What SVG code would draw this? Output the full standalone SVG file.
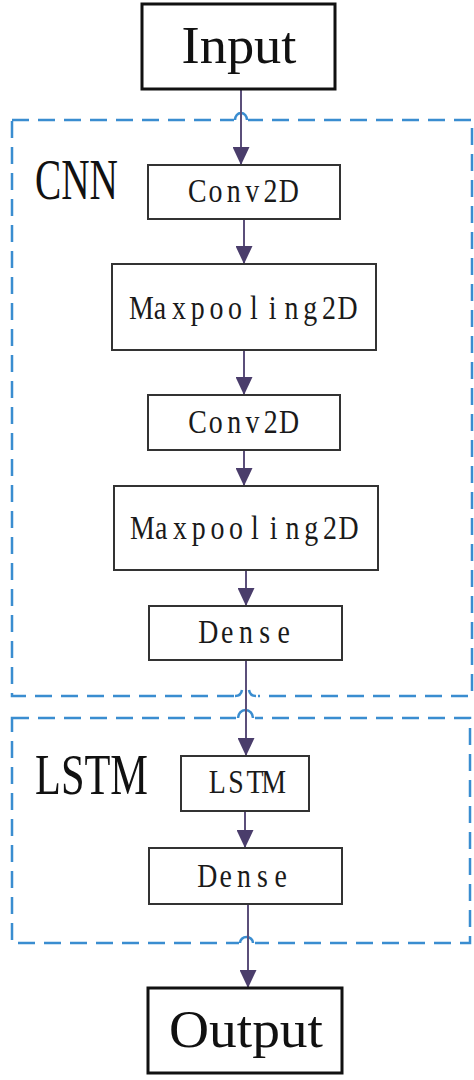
<svg xmlns="http://www.w3.org/2000/svg" width="474" height="1080" viewBox="0 0 474 1080">
<style>
.big{fill:#fff;stroke:#111;stroke-width:3}
.box{fill:#fff;stroke:#333;stroke-width:2}
.grp{fill:none;stroke:#3a8dd0;stroke-width:2.5;stroke-dasharray:17 9}
.hop{fill:none;stroke:#3a8dd0;stroke-width:2.5}
.mask{fill:#fff;stroke:none}
.t1{font-family:"Liberation Serif",serif;font-size:52px;fill:#111;text-anchor:middle}
.t2{font-family:"Liberation Serif",serif;font-size:56px;fill:#111}
.t3{font-family:"Liberation Serif",serif;font-size:34px;fill:#1a1a1a;text-anchor:middle}
.edge{stroke:#5b4f7a;stroke-width:2;fill:none;marker-end:url(#ah)}
</style>
<defs>
<marker id="ah" viewBox="0 0 18 17" refX="18" refY="8.5" markerWidth="18" markerHeight="17" markerUnits="userSpaceOnUse" orient="auto">
<path d="M0,0 L18,8.5 L0,17 Z" fill="#4a3d6b"/>
</marker>
</defs>
<rect width="474" height="1080" fill="#fff"/>
<g id="groups">
<g id="cnn-group">
<rect class="grp" x="12" y="120" width="460" height="576"/>
<text class="t2" x="35" y="199" textLength="83" lengthAdjust="spacingAndGlyphs">CNN</text>
</g>
<g id="lstm-group">
<rect class="grp" x="12" y="718" width="458" height="225"/>
<text class="t2" x="35" y="794" textLength="113" lengthAdjust="spacingAndGlyphs">LSTM</text>
</g>
<g id="hops">
<rect class="mask" x="234" y="116" width="14" height="8"/>
<path class="hop" d="M235,120 A6,7 0 0 1 247,120"/>
<rect class="mask" x="234" y="692" width="24" height="8"/>
<path class="hop" d="M235,696 Q241,696 242,690"/>
<path class="hop" d="M249,690 Q250,696 256,696"/>
<rect class="mask" x="236" y="714" width="19" height="8"/>
<path class="hop" d="M238,718 A7.5,8 0 0 1 253,718"/>
<rect class="mask" x="239" y="939" width="16" height="8"/>
<path class="hop" d="M240,943 A6.5,6 0 0 1 253,943"/>
</g>
</g>
<g id="connectors">
<line class="edge" x1="241" y1="89" x2="241" y2="165"/>
<line class="edge" x1="244" y1="219" x2="244" y2="264"/>
<line class="edge" x1="244" y1="350" x2="244" y2="395"/>
<line class="edge" x1="244" y1="450" x2="244" y2="486"/>
<line class="edge" x1="246" y1="570" x2="246" y2="606"/>
<line class="edge" x1="246" y1="660" x2="246" y2="756"/>
<line class="edge" x1="245" y1="811" x2="245" y2="848"/>
<line class="edge" x1="248" y1="904" x2="248" y2="988"/>
</g>
<g id="input">
<rect class="big" x="142" y="4" width="193" height="85"/>
<text class="t1" x="239" y="63" textLength="115" lengthAdjust="spacingAndGlyphs">Input</text>
</g>
<g id="conv2d-1">
<rect class="box" x="148" y="165" width="192" height="54"/>
<text class="t3" transform="scale(0.82,1)" x="240.5 262.8 285.1 307.6 329.9 352.2" y="202">Conv2D</text>
</g>
<g id="maxpool-1">
<rect class="box" x="112" y="264" width="264" height="86"/>
<text class="t3" transform="scale(0.82,1)" x="172.4 195.2 218.2 241.0 263.9 286.7 309.6 332.4 355.4 378.2 401.1 423.9" y="319">Maxpooling2D</text>
</g>
<g id="conv2d-2">
<rect class="box" x="148" y="395" width="192" height="55"/>
<text class="t3" transform="scale(0.82,1)" x="240.9 263.2 285.5 307.9 330.2 352.6" y="433">Conv2D</text>
</g>
<g id="maxpool-2">
<rect class="box" x="114" y="486" width="264" height="84"/>
<text class="t3" transform="scale(0.82,1)" x="173.7 196.5 219.4 242.2 265.1 287.9 310.9 333.7 356.6 379.4 402.3 425.1" y="539">Maxpooling2D</text>
</g>
<g id="dense-1">
<rect class="box" x="149" y="606" width="193" height="54"/>
<text class="t3" transform="scale(0.82,1)" x="254.1 277.1 300.0 322.9 345.9" y="643">Dense</text>
</g>
<g id="lstm">
<rect class="box" x="181" y="756" width="128" height="55"/>
<text class="t3" transform="scale(0.82,1)" x="265.1 287.9 310.9 333.7" y="793">LSTM</text>
</g>
<g id="dense-2">
<rect class="box" x="149" y="848" width="193" height="56"/>
<text class="t3" transform="scale(0.82,1)" x="252.7 275.1 297.6 320.0 342.4" y="887">Dense</text>
</g>
<g id="output">
<rect class="big" x="148" y="988" width="194" height="85"/>
<text class="t1" x="246" y="1047" textLength="154" lengthAdjust="spacingAndGlyphs">Output</text>
</g>
</svg>
